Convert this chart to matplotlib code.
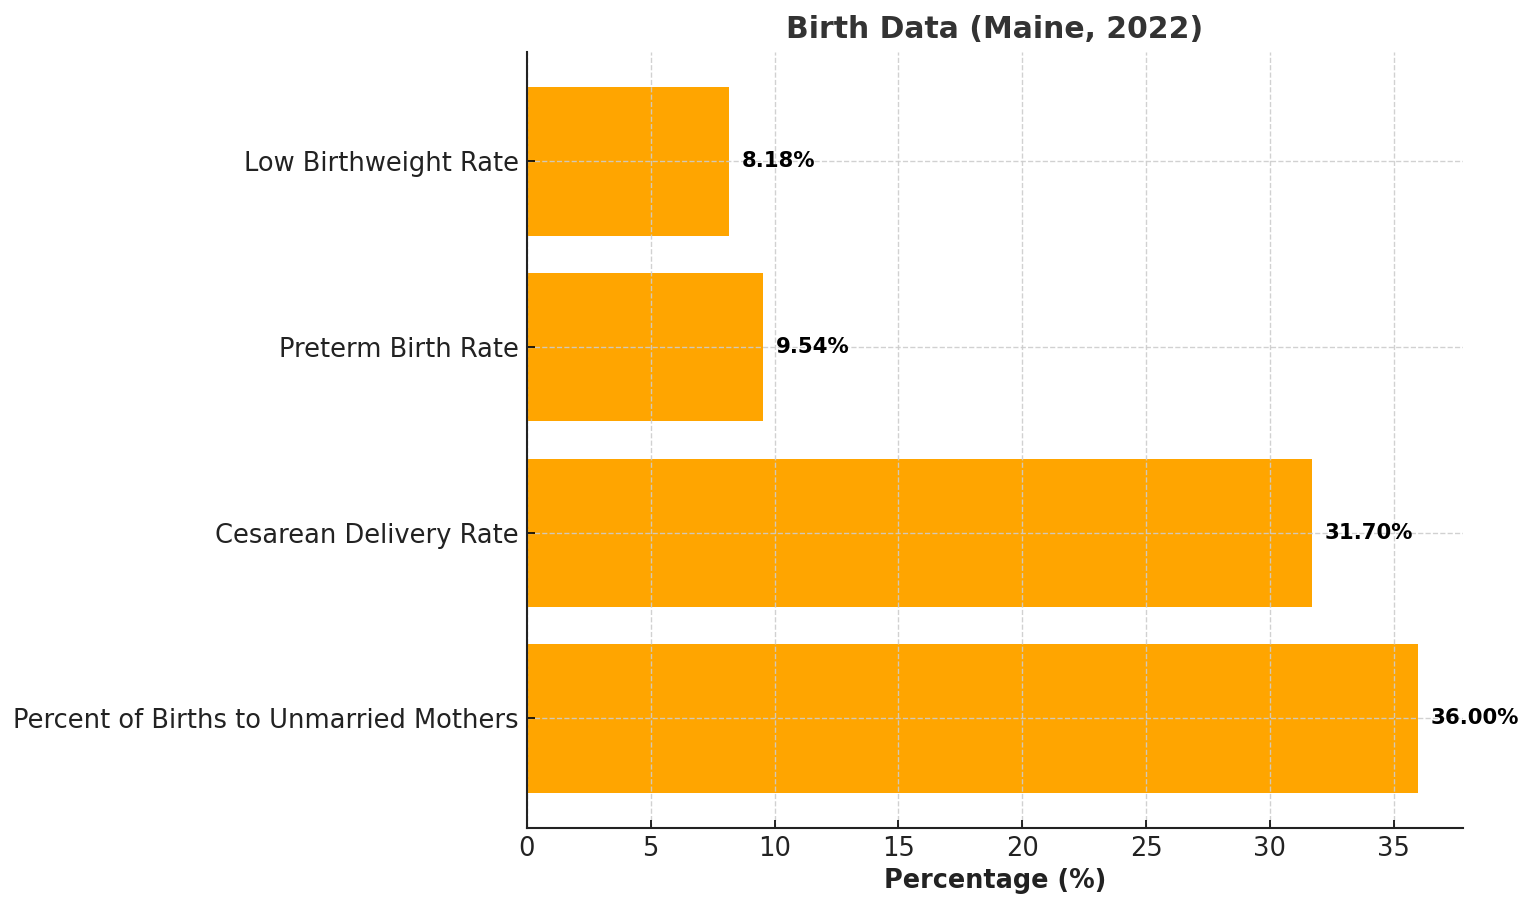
import matplotlib
matplotlib.use("Agg")
import matplotlib.pyplot as plt

categories = ["Percent of Births to Unmarried Mothers", "Cesarean Delivery Rate",
              "Preterm Birth Rate", "Low Birthweight Rate"]
values = [36.00, 31.70, 9.54, 8.18]

fig = plt.figure(figsize=(15.36, 9.10), dpi=100)
ax = fig.add_axes([0.343, 0.0901, 0.6095, 0.8528])

bars = ax.barh(categories, values, color="#FFA500", height=0.8)
ax.set_axisbelow(False)
ax.grid(True, linestyle="--", color="#cccccc", linewidth=1.0, alpha=0.9)

for b, v in zip(bars, values):
    ax.text(v + 0.5, b.get_y() + b.get_height() / 2, f"{v:.2f}%",
            va="center", ha="left", fontsize=15.3, fontweight="bold", color="black")

ax.set_title("Birth Data (Maine, 2022)", fontsize=21.5, fontweight="bold", color="#333333", pad=10)
ax.set_xlabel("Percentage (%)", fontsize=18.4, fontweight="bold", color="#222222")
ax.tick_params(axis="both", direction="in", labelsize=18.5, labelcolor="#222222", length=6, width=1.2)
ax.tick_params(axis="x", pad=6)
ax.tick_params(axis="y", pad=5.7)
ax.spines["top"].set_visible(False)
ax.spines["right"].set_visible(False)
for s in ("left", "bottom"):
    ax.spines[s].set_linewidth(1.5)
    ax.spines[s].set_color("#222222")
    ax.spines[s].set_zorder(5)

fig.savefig("out.png", dpi=100)
